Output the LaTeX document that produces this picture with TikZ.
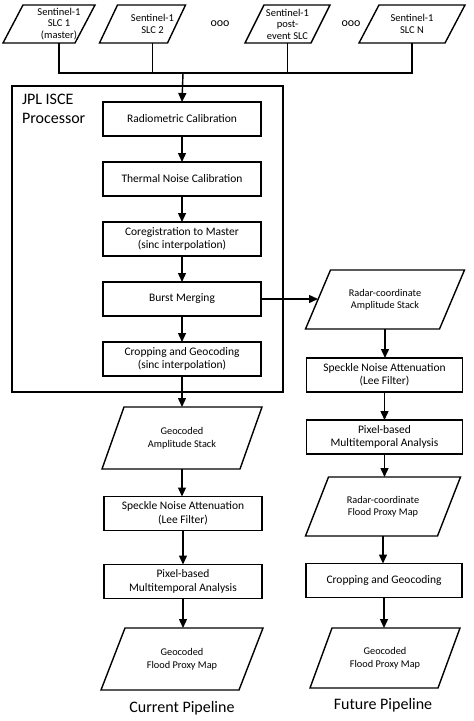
\documentclass[tikz,border=0pt]{standalone}
\usepackage{fontspec}
\setmainfont{Carlito}
\usetikzlibrary{arrows.meta}
\newcommand{\drawpara}[3]{% node name, half slant, x offset
  \draw ([xshift=#3pt-#2pt]#1.south west) -- ([xshift=#3pt+#2pt]#1.north west) -- ([xshift=#3pt+#2pt]#1.north east) -- ([xshift=#3pt-#2pt]#1.south east) -- cycle;}
\begin{document}
\begin{tikzpicture}[x=1pt,y=-1pt,
  line width=1.4pt,
  every node/.style={inner sep=0pt, outer sep=0pt},
  box/.style={draw, rectangle, minimum height=34pt, align=center, font=\fontsize{11.5}{13.5}\selectfont},
  lbox/.style={box, minimum width=158pt},
  rbox/.style={box, minimum width=156pt},
  pbox/.style={rectangle, align=center, font=\fontsize{10.3}{12.5}\selectfont},
  topbox/.style={rectangle, align=center, minimum height=38pt, font=\fontsize{10.5}{11.5}\selectfont},
  dots/.style={font=\fontsize{12}{14}\selectfont},
  arr/.style={-{Triangle[width=8pt,length=9pt]}},
  bigtext/.style={font=\fontsize{16}{19}\selectfont}]
\useasboundingbox (0,0) rectangle (474,721);

% top row inputs
\node[topbox, minimum width=72pt] (p1) at (59,24) {Sentinel-1\\SLC 1\\(master)};
\node[topbox, minimum width=68pt] (p2) at (152.5,24) {Sentinel-1\\SLC 2};
\node[topbox, minimum width=66pt] (p3) at (287.5,24) {Sentinel-1\\post-\\event SLC};
\node[topbox, minimum width=86pt] (p4) at (412,24) {Sentinel-1\\SLC N};
\drawpara{p1}{10}{-10}
\drawpara{p2}{9}{-10}
\drawpara{p3}{9.5}{0}
\drawpara{p4}{10}{0}
\node[dots] (d1) at (220,24) {ooo};
\node[dots] (d2) at (351,24) {ooo};

% processor box
\node[draw, rectangle, minimum width=271pt, minimum height=306pt] (proc) at (147.5,239) {};
\node[bigtext, align=left, anchor=north west] (proct) at (22,94) {JPL ISCE\\Processor};

% left column
\node[lbox] (rad) at (182,119) {Radiometric Calibration};
\node[lbox] (therm) at (182,179) {Thermal Noise Calibration};
\node[lbox] (coreg) at (182,239) {Coregistration to Master\\(sinc interpolation)};
\node[lbox] (burst) at (182,299) {Burst Merging};
\node[lbox] (crop) at (182,359) {Cropping and Geocoding\\(sinc interpolation)};
\node[pbox, minimum width=138pt, minimum height=62pt] (geoamp) at (182,438) {Geocoded\\Amplitude Stack};
\drawpara{geoamp}{11}{0}
\node[lbox] (speckL) at (183,513.5) {Speckle Noise Attenuation\\(Lee Filter)};
\node[lbox] (pixL) at (183,581.5) {Pixel-based\\Multitemporal Analysis};
\node[pbox, minimum width=138pt, minimum height=62pt] (floodL) at (182,659) {Geocoded\\Flood Proxy Map};
\drawpara{floodL}{12}{0}
\node[bigtext] (curr) at (182,708) {Current Pipeline};

% right column
\node[pbox, minimum width=134pt, minimum height=59pt] (radamp) at (385,299.5) {Radar-coordinate\\Amplitude Stack};
\drawpara{radamp}{12.5}{0}
\node[rbox] (speckR) at (384.5,375) {Speckle Noise Attenuation\\(Lee Filter)};
\node[rbox] (pixR) at (384.5,437) {Pixel-based\\Multitemporal Analysis};
\node[pbox, minimum width=132pt, minimum height=59pt] (radflood) at (383,506.5) {Radar-coordinate\\Flood Proxy Map};
\drawpara{radflood}{11.5}{0}
\node[rbox] (cropR) at (384,580.5) {Cropping and Geocoding};
\node[pbox, minimum width=128pt, minimum height=60pt] (floodR) at (385,658) {Geocoded\\Flood Proxy Map};
\drawpara{floodR}{11}{0}
\node[bigtext] (fut) at (383,705) {Future Pipeline};

% bus
\coordinate (bus) at (183,73);
\draw (p1.south) |- (bus) -| (p4.south);
\draw (p2.south) -- (p2.south |- bus);
\draw (p3.south) -- (p3.south |- bus);
\draw[arr] (bus) -- (rad.north);

% left arrows
\draw[arr] (rad) -- (therm);
\draw[arr] (therm) -- (coreg);
\draw[arr] (coreg) -- (burst);
\draw[arr] (burst) -- (crop);
\draw[arr] (crop.south) -- (geoamp.north);
\draw[arr] (geoamp.south) -- (geoamp.south |- speckL.north);
\draw[arr] (speckL) -- (pixL);
\draw[arr] (pixL.south) -- (pixL.south |- floodL.north);

% right arrows
\draw[arr] (burst.east) -- (burst.east -| radamp.west);
\draw[arr] (radamp.south) -- (radamp.south |- speckR.north);
\draw[arr] (speckR) -- (pixR);
\draw[arr] (pixR.south) -- (pixR.south |- radflood.north);
\draw[arr] (radflood.south) -- (radflood.south |- cropR.north);
\draw[arr] (cropR.south) -- (cropR.south |- floodR.north);
\end{tikzpicture}
\end{document}
